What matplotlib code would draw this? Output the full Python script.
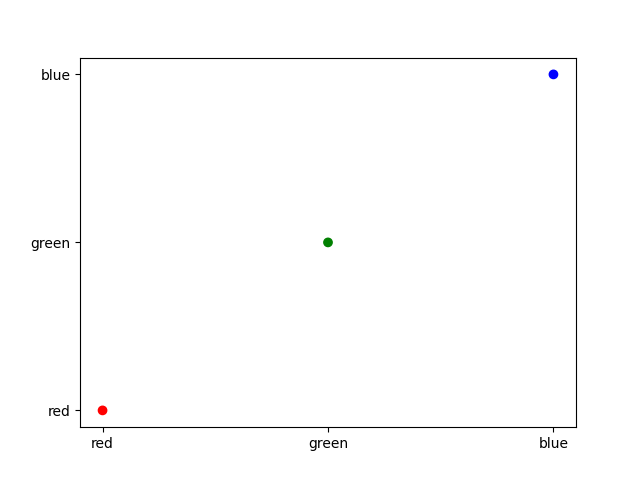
import matplotlib

matplotlib.use("Agg")
import matplotlib.pyplot as plt

x_labels = ["red", "green", "blue"]
y_labels = ["red", "green", "blue"]
point_colors = ["red", "green", "blue"]

fig, ax = plt.subplots(figsize=(6.4, 4.8), dpi=100)
ax.scatter(x_labels, y_labels, color=point_colors)
fig.savefig("out.png")
